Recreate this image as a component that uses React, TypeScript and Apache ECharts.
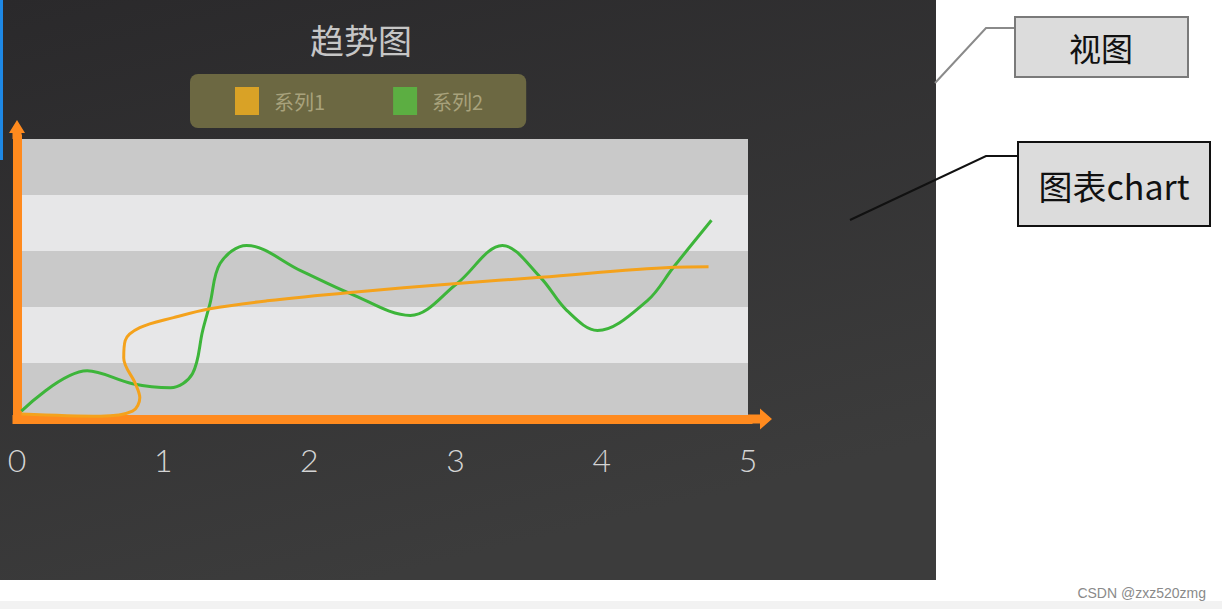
import { useEffect, useRef } from 'react';
import * as echarts from 'echarts';

// 图例名称
const seriesNames = ['系列1', '系列2'];

// 系列1（橙色）: [x, y]
const series1: number[][] = [
  [0.03, 0.09], [0.57, 0.05], [0.79, 0.14], [0.84, 0.38], [0.81, 0.63],
  [0.73, 1.09], [0.74, 1.4], [0.84, 1.63], [1.07, 1.81], [1.32, 1.97],
  [1.71, 2.11], [2.28, 2.26], [3.01, 2.42], [3.58, 2.53], [4.49, 2.71],
  [4.73, 2.72],
];

// 系列2（绿色）: [x, y]
const series2: number[][] = [
  [0.03, 0.14], [0.48, 0.86], [0.79, 0.63], [1.05, 0.56], [1.2, 0.81],
  [1.27, 1.58], [1.32, 2.06], [1.39, 2.78], [1.57, 3.1], [1.94, 2.65],
  [2.28, 2.24], [2.69, 1.85], [3.01, 2.42], [3.32, 3.1], [3.58, 2.53],
  [3.76, 1.94], [3.97, 1.58], [4.31, 2.11], [4.49, 2.71], [4.75, 3.55],
];

// 坐标轴范围
const xMin = 0;
const xMax = 5;
const yMin = 0;
const yMax = 5;

const AXIS_COLOR = '#ff8a1e';
const CN_FONT = '"Noto Sans CJK SC", "Noto Sans", sans-serif';

// 带箭杆的箭头（尖端朝上，由 ECharts 旋转到轴方向）
const X_ARROW = 'path://M6,24 L6,12 L0,12 L10.5,0 L21,12 L15,12 L15,24 Z';
const Y_ARROW = 'path://M3.5,19 L3.5,13 L0,13 L8,0 L16,13 L12.5,13 L12.5,19 Z';

export default function App() {
  const chartRef = useRef<HTMLDivElement>(null);

  useEffect(() => {
    if (!chartRef.current) return;
    const chart = echarts.init(chartRef.current, undefined, { renderer: 'svg' });

    const option: echarts.EChartsOption = {
      animation: false,
      backgroundColor: '#ffffff',
      title: {
        text: '趋势图',
        left: 305,
        top: 17,
        textStyle: {
          color: '#c6c6c6',
          fontSize: 34,
          fontWeight: 'normal',
          fontFamily: CN_FONT,
        },
      },
      legend: {
        left: 190,
        top: 74,
        padding: [13, 43, 13, 45],
        backgroundColor: '#6c6842',
        borderRadius: 8,
        icon: 'rect',
        itemWidth: 24,
        itemHeight: 28,
        itemGap: 68,
        textStyle: {
          color: '#a8a27c',
          fontSize: 20,
          fontFamily: CN_FONT,
          padding: [0, 0, 0, 10],
        },
        data: [
          { name: seriesNames[0], itemStyle: { color: '#d9a226' } },
          { name: seriesNames[1], itemStyle: { color: '#5cae42' } },
        ],
      },
      grid: {
        left: 17,
        right: 474,
        top: 139,
        bottom: 190,
        show: true,
        backgroundColor: '#d6d6d6',
        borderWidth: 0,
      },
      xAxis: {
        type: 'value',
        min: xMin,
        max: xMax,
        interval: 1,
        offset: 3,
        axisLine: {
          lineStyle: { color: AXIS_COLOR, width: 9, cap: 'square' },
          symbol: ['none', X_ARROW],
          symbolSize: [21, 24],
          symbolOffset: [0, 12],
        },
        axisTick: { show: false },
        splitLine: { show: false },
        axisLabel: {
          color: '#d4d4d4',
          fontSize: 32,
          fontFamily: 'Lato, "DejaVu Sans", sans-serif',
          fontWeight: 300,
          margin: 21,
        },
      },
      yAxis: {
        type: 'value',
        min: yMin,
        max: yMax,
        interval: 1,
        axisLine: {
          show: true,
          lineStyle: { color: AXIS_COLOR, width: 9, cap: 'square' },
          symbol: ['none', Y_ARROW],
          symbolSize: [16, 19],
          symbolOffset: [0, 9.5],
        },
        axisTick: { show: false },
        axisLabel: { show: false },
        splitLine: { show: false },
        splitArea: {
          show: true,
          areaStyle: { color: ['#c9c9c9', '#e7e7e8'] },
        },
      },
      graphic: [
        // 深色视图背景
        {
          type: 'rect',
          z: -10,
          shape: { x: 0, y: 0, width: 936, height: 580 },
          style: {
            fill: new echarts.graphic.LinearGradient(0, 0, 0.4, 1, [
              { offset: 0, color: '#2a292b' },
              { offset: 1, color: '#3c3c3c' },
            ]),
          },
        },
        {
          type: 'rect',
          z: -9,
          shape: { x: 0, y: 0, width: 3, height: 160 },
          style: { fill: '#1e88e5' },
        },
        {
          type: 'rect',
          z: -10,
          shape: { x: 0, y: 601, width: 1222, height: 8 },
          style: { fill: '#f2f2f2' },
        },
        // 标注：视图
        {
          type: 'polyline',
          shape: { points: [[935, 83], [986, 28], [1014, 28]] },
          style: { stroke: '#8a8a8a', lineWidth: 2, fill: 'none' },
        },
        {
          type: 'rect',
          shape: { x: 1015, y: 17, width: 173, height: 60 },
          style: { fill: '#dcdcdc', stroke: '#7a7a7a', lineWidth: 2 },
        },
        {
          type: 'text',
          x: 1101,
          y: 47,
          style: {
            text: '视图',
            fill: '#111',
            fontSize: 32,
            fontFamily: CN_FONT,
            align: 'center',
            verticalAlign: 'middle',
          },
        },
        // 标注：图表chart
        {
          type: 'polyline',
          shape: { points: [[850, 220], [986, 156], [1018, 156]] },
          style: { stroke: '#111', lineWidth: 2, fill: 'none' },
        },
        {
          type: 'rect',
          shape: { x: 1018, y: 142, width: 192, height: 84 },
          style: { fill: '#dcdcdc', stroke: '#111', lineWidth: 2 },
        },
        {
          type: 'text',
          x: 1114,
          y: 185,
          style: {
            text: '图表chart',
            fill: '#111',
            fontSize: 34,
            fontFamily: CN_FONT,
            align: 'center',
            verticalAlign: 'middle',
          },
        },
        {
          type: 'text',
          x: 1206,
          y: 593,
          style: {
            text: 'CSDN @zxz520zmg',
            fill: '#8a8a8a',
            fontSize: 14,
            fontFamily: '"Liberation Sans", Arial, sans-serif',
            align: 'right',
            verticalAlign: 'middle',
          },
        },
      ],
      series: [
        {
          name: seriesNames[0],
          type: 'line',
          data: series1,
          smooth: 0.35,
          showSymbol: false,
          lineStyle: { color: '#f4a21c', width: 3 },
          itemStyle: { color: '#f4a21c' },
          z: 3,
        },
        {
          name: seriesNames[1],
          type: 'line',
          data: series2,
          smooth: 0.35,
          showSymbol: false,
          lineStyle: { color: '#3db53a', width: 3 },
          itemStyle: { color: '#3db53a' },
          z: 2,
        },
      ],
    };

    chart.setOption(option);

    return () => {
      chart.dispose();
    };
  }, []);

  return (
    <div
      ref={chartRef}
      style={{ position: 'fixed', left: 0, top: 0, width: 1222, height: 609 }}
    />
  );
}
